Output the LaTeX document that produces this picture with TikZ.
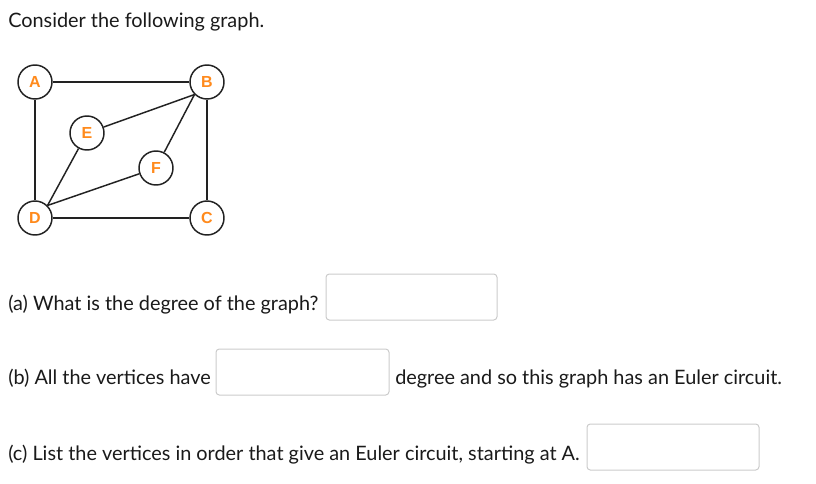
\documentclass[tikz,border=0pt]{standalone}
\usepackage{fontspec}
\setmainfont{Lato}
\newfontfamily\arialfont{Liberation Sans}
\definecolor{vorange}{HTML}{FF8A1C}
\definecolor{edgec}{HTML}{222222}
\definecolor{boxc}{HTML}{CCCCCC}
\definecolor{textc}{HTML}{1A1A1A}
\begin{document}
\begin{tikzpicture}[x=0.75pt,y=-0.75pt,
  vert/.style={circle,draw=edgec,line width=1.1pt,fill=white,minimum size=25.5pt,inner sep=0pt,
    font=\arialfont\bfseries\fontsize{12}{14}\selectfont,text=vorange},
  edge/.style={draw=edgec,line width=1.1pt},
  txt/.style={anchor=base west,inner sep=0pt,text=textc,font=\fontsize{14.9}{18}\selectfont},
  ansbox/.style={draw=boxc,line width=0.75pt,rounded corners=2.5pt,fill=white}]
\useasboundingbox (0,0) rectangle (816,483);
\fill[white] (0,0) rectangle (816,483);
\node[txt] (title) at (8,27) {Consider the following graph.};
% vertices
\node[vert] (A) at (35,82) {A};
\node[vert] (B) at (207,82) {B};
\node[vert] (E) at (87,133) {E};
\node[vert] (F) at (156,168) {F};
\node[vert] (D) at (35,218) {D};
\node[vert] (C) at (207,218) {C};
% edges
\draw[edge] (A) -- (B);
\draw[edge] (A) -- (D);
\draw[edge] (B) -- (C);
\draw[edge] (D) -- (C);
\draw[edge] (E) -- (B.225);
\draw[edge] (F) -- (B.225);
\draw[edge] (E) -- (D.45);
\draw[edge] (F) -- (D.45);
% questions
\node[txt] (qa) at (8,310) {(a) What is the degree of the graph?};
\draw[ansbox] (326,274) rectangle (497,320);
\node[txt] (qb) at (8,384) {(b) All the vertices have};
\draw[ansbox] (216,349) rectangle (389,395);
\node[txt] (qb2) at (395,384) {degree and so this graph has an Euler circuit.};
\node[txt] (qc) at (8,460) {(c) List the vertices in order that give an Euler circuit, starting at A.};
\draw[ansbox] (587,424) rectangle (759,470);
\end{tikzpicture}
\end{document}
